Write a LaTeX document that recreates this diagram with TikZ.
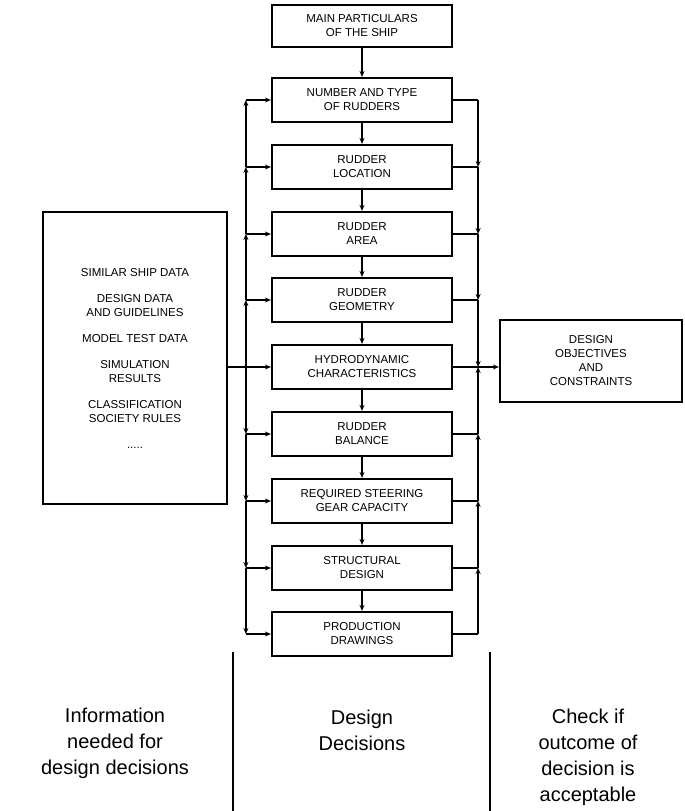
\documentclass[tikz,border=0pt]{standalone}
\usepackage{fontspec}
\setmainfont{Liberation Sans}
\usetikzlibrary{arrows.meta}
\begin{document}
\begin{tikzpicture}[x=1pt,y=-1pt,
  box/.style={draw, line width=2.2pt, minimum width=180pt, minimum height=44pt, align=center, inner sep=1pt, font=\fontsize{11.5}{14}\selectfont},
  link/.style={line width=2pt, -{Stealth[length=6pt,width=5pt]}},
  bus/.style={line width=2pt}]
\useasboundingbox (0,0) rectangle (685,811);
\node[box, minimum height=42pt] (ship) at (362,26) {MAIN PARTICULARS\\OF THE SHIP};
\node[box] (num) at (362,100) {NUMBER AND TYPE\\OF RUDDERS};
\node[box] (loc) at (362,167) {RUDDER\\LOCATION};
\node[box] (area) at (362,234) {RUDDER\\AREA};
\node[box] (geo) at (362,300) {RUDDER\\GEOMETRY};
\node[box] (hyd) at (362,367) {HYDRODYNAMIC\\CHARACTERISTICS};
\node[box] (bal) at (362,434) {RUDDER\\BALANCE};
\node[box] (gear) at (362,501) {REQUIRED STEERING\\GEAR CAPACITY};
\node[box] (str) at (362,568) {STRUCTURAL\\DESIGN};
\node[box] (prod) at (362,634) {PRODUCTION\\DRAWINGS};
\foreach \nm in {num, loc, area, geo, hyd, bal, gear, str, prod}{
  \path (\nm.west) ++(-25,0) coordinate (L\nm);
  \path (\nm.east) ++(25,0) coordinate (R\nm);
  \draw[link] (L\nm) -- (\nm.west);
  \draw[bus] (\nm.east) -- (R\nm);
 }
\node[box, minimum width=184pt, minimum height=292pt] (info) at (135,358) {SIMILAR SHIP DATA\\[12pt]DESIGN DATA\\AND GUIDELINES\\[12pt]MODEL TEST DATA\\[12pt]SIMULATION\\RESULTS\\[12pt]CLASSIFICATION\\SOCIETY RULES\\[12pt].....};
\node[box, minimum width=182pt, minimum height=82pt] (obj) at (591,361) {DESIGN\\OBJECTIVES\\AND\\CONSTRAINTS};
% spine
\foreach \a/\b in {ship/num, num/loc, loc/area, area/geo, geo/hyd, hyd/bal, bal/gear, gear/str, str/prod}
 {\draw[link] (\a) -- (\b);}
% left bus
\draw[bus] (info.east |- Lhyd) -- (Lhyd);
\foreach \a/\b in {Lhyd/Lgeo, Lgeo/Larea, Larea/Lloc, Lloc/Lnum, Lhyd/Lbal, Lbal/Lgear, Lgear/Lstr, Lstr/Lprod}
 {\draw[link] (\a) -- (\b);}
% right bus
\foreach \a/\b in {Rnum/Rloc, Rloc/Rarea, Rarea/Rgeo, Rgeo/Rhyd, Rprod/Rstr, Rstr/Rgear, Rgear/Rbal, Rbal/Rhyd}
 {\draw[link] (\a) -- (\b);}
\draw[link] (Rhyd) -- (obj.west |- Rhyd);
% columns
\coordinate (d1a) at (233,652); \coordinate (d1b) at (233,811);
\coordinate (d2a) at (490,652); \coordinate (d2b) at (490,811);
\draw[line width=1.5pt] (d1a) -- (d1b);
\draw[line width=1.5pt] (d2a) -- (d2b);
\tikzset{lbl/.style={align=center, font=\fontsize{20}{26}\selectfont}}
\node[lbl] (c1) at (115,743) {Information\\needed for\\design decisions};
\node[lbl] (c2) at (362,730) {Design\\Decisions};
\node[lbl] (c3) at (588,757) {Check if\\outcome of\\decision is\\acceptable};
\end{tikzpicture}
\end{document}
